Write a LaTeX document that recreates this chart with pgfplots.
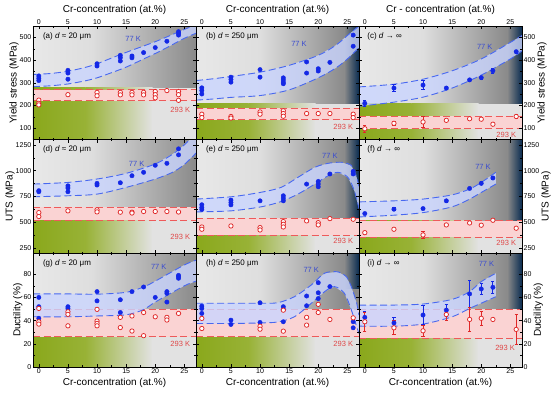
\documentclass[border=0pt]{standalone}
\usepackage{fontspec}
\setmainfont{Liberation Sans}
\usepackage{pgfplots}
\usepackage{pgfplotstable}
\pgfplotsset{compat=1.18}

\definecolor{gA}{HTML}{E8E8E8}
\definecolor{gB}{HTML}{DEDEDE}
\definecolor{gC}{HTML}{8A8A8A}
\definecolor{navy}{HTML}{0A2C50}
\definecolor{grA}{HTML}{8AA81C}
\definecolor{grB}{HTML}{98B236}
\definecolor{grC}{HTML}{E2E2E2}
\definecolor{pinkf}{HTML}{FAD3D3}
\definecolor{rdash}{HTML}{EE5A5A}
\definecolor{mred}{HTML}{E02828}
\definecolor{bfillc}{HTML}{CAD5FF}
\definecolor{bdash}{HTML}{4868F0}
\definecolor{mblue}{HTML}{1428E6}
\definecolor{tblue}{HTML}{3A4CD0}
\definecolor{tred}{HTML}{E04848}

\newcommand{\greenrect}[2]{%
 \shade[left color=grA, right color=grB] (axis cs:-1,#1) rectangle (axis cs:8.05,#2);
 \shade[left color=grB, right color=grC] (axis cs:8,#1) rectangle (axis cs:19.55,#2);
 \fill[grC] (axis cs:19.5,#1) rectangle (axis cs:27,#2);}
\newcommand{\bgL}[3]{%
 \shade[left color=gA, right color=gB] (axis cs:-1,#1) rectangle (axis cs:9.05,#2);
 \shade[left color=gB, right color=gC] (axis cs:9,#1) rectangle (axis cs:27,#2);
 \greenrect{#1}{#3}}
% #4 = lower edge of the dark band at the right
\newcommand{\bgN}[4]{%
 \shade[left color=gA, right color=gB] (axis cs:-1,#1) rectangle (axis cs:10.05,#2);
 \shade[left color=gB, right color=gC] (axis cs:10,#1) rectangle (axis cs:24.5,#2);
 \fill[gC] (axis cs:24.45,#1) rectangle (axis cs:27,#2);
 \shade[left color=gC, right color=navy] (axis cs:24.45,#4) rectangle (axis cs:27,#2);
 \greenrect{#1}{#3}}
\newcommand{\pinkband}[2]{%
 \addplot[draw=none, fill=pinkf] coordinates {(-1,#1) (27,#1) (27,#2) (-1,#2)};
 \addplot[rd] coordinates {(-1,#1) (27,#1)};
 \addplot[rd] coordinates {(-1,#2) (27,#2)};}
% #1 upper table, #2 lower table, #3 polygon table (upper, then lower reversed)
\newcommand{\blueband}[3]{%
 \addplot[draw=none, fill=bfillc, fill opacity=0.8] table {#3};
 \addplot[bd, smooth] table {#1};
 \addplot[bd, smooth] table {#2};}

\tikzset{
 pl/.style={anchor=west, font=\fontsize{8}{9}\selectfont},
 t77/.style={text=tblue, font=\fontsize{7.5}{8}\selectfont},
 t293/.style={text=tred, font=\fontsize{7.5}{8}\selectfont},
}
\pgfplotsset{
 rd/.style={rdash, line width=0.9pt, dash pattern=on 7pt off 3.5pt},
 bd/.style={bdash, line width=0.9pt, dash pattern=on 7pt off 3.5pt},
 fb/.style={only marks, mark=*, mark size=2.2pt, mblue, mark options={fill=mblue, draw=mblue}},
 orc/.style={only marks, mark=*, mark size=2.2pt, mred, mark options={fill=white, draw=mred, line width=0.75pt}},
 ebb/.style={error bars/.cd, y dir=both, y explicit, error bar style={line width=0.9pt, mblue}, error mark options={rotate=90, mark size=1.6pt, line width=0.9pt, mblue}},
 ebr/.style={error bars/.cd, y dir=both, y explicit, error bar style={line width=0.9pt, mred}, error mark options={rotate=90, mark size=1.6pt, line width=0.9pt, mred}},
 panel/.style={width=163pt, height=113.67pt, scale only axis, anchor=south west,
  xmin=-1, xmax=27, xtick={0,5,...,25}, minor x tick num=1, minor y tick num=1,
  axis on top, tick align=inside, tick pos=both,
  major tick length=3pt, minor tick length=1.6pt,
  every tick/.style={black, line width=0.45pt},
  axis line style={line width=0.6pt},
  /pgf/number format/assume math mode=true,
  /pgf/number format/1000 sep={},
  tick label style={font=\fontsize{7}{8}\selectfont},
  label style={font=\fontsize{10}{11}\selectfont},
  xticklabel style={inner sep=1.5pt}, yticklabel style={inner sep=1.5pt}},
 lefty/.style={ylabel shift=-4pt},
 righty/.style={yticklabel pos=right, ylabel shift=-3pt},
 ys/.style={ymin=50, ymax=550, ytick={100,200,...,500}},
 uts/.style={ymin=200, ymax=1300, ytick={250,500,...,1250}},
 duc/.style={ymin=0, ymax=98, ytick={0,20,...,80}},
}

\pgfplotstableread[row sep=\\]{x y\\ -1 337\\ 2 341\\ 5 351\\ 8 368\\ 10 384\\ 12 404\\ 15 434\\ 18 462\\ 20 481\\ 22 502\\ 25 535\\ 27 555\\}\aU
\pgfplotstableread[row sep=\\]{x y\\ -1 283\\ 2 287\\ 5 295\\ 8 309\\ 10 322\\ 12 340\\ 15 369\\ 18 405\\ 20 429\\ 22 455\\ 25 496\\ 27 518\\}\aL
\pgfplotstableread[row sep=\\]{x y\\ -1 337\\ 2 341\\ 5 351\\ 8 368\\ 10 384\\ 12 404\\ 15 434\\ 18 462\\ 20 481\\ 22 502\\ 25 535\\ 27 555\\ 27 518\\ 25 496\\ 22 455\\ 20 429\\ 18 405\\ 15 369\\ 12 340\\ 10 322\\ 8 309\\ 5 295\\ 2 287\\ -1 283\\}\aP
\pgfplotstableread[row sep=\\]{x y\\ -1 310\\ 2 318\\ 5 328\\ 10 347\\ 15 377\\ 20 421\\ 23 465\\ 25 508\\ 27 550\\}\bU
\pgfplotstableread[row sep=\\]{x y\\ -1 224\\ 2 229\\ 5 236\\ 10 244\\ 15 269\\ 20 322\\ 23 365\\ 25 405\\ 27 455\\}\bL
\pgfplotstableread[row sep=\\]{x y\\ -1 310\\ 2 318\\ 5 328\\ 10 347\\ 15 377\\ 20 421\\ 23 465\\ 25 508\\ 27 550\\ 27 455\\ 25 405\\ 23 365\\ 20 322\\ 15 269\\ 10 244\\ 5 236\\ 2 229\\ -1 224\\}\bP
\pgfplotstableread[row sep=\\]{x y\\ -1 282\\ 5 294\\ 10 316\\ 15 353\\ 20 405\\ 25 478\\ 27 508\\}\cU
\pgfplotstableread[row sep=\\]{x y\\ -1 197\\ 5 215\\ 10 237\\ 15 277\\ 20 334\\ 25 405\\ 27 441\\}\cL
\pgfplotstableread[row sep=\\]{x y\\ -1 282\\ 5 294\\ 10 316\\ 15 353\\ 20 405\\ 25 478\\ 27 508\\ 27 441\\ 25 405\\ 20 334\\ 15 277\\ 10 237\\ 5 215\\ -1 197\\}\cP
\pgfplotstableread[row sep=\\]{x y\\ -1 870\\ 5 886\\ 10 919\\ 15 974\\ 20 1065\\ 23 1160\\ 25 1250\\ 27 1360\\}\dU
\pgfplotstableread[row sep=\\]{x y\\ -1 747\\ 5 757\\ 10 773\\ 15 838\\ 20 919\\ 23 985\\ 25 1060\\ 27 1170\\}\dL
\pgfplotstableread[row sep=\\]{x y\\ -1 870\\ 5 886\\ 10 919\\ 15 974\\ 20 1065\\ 23 1160\\ 25 1250\\ 27 1360\\ 27 1170\\ 25 1060\\ 23 985\\ 20 919\\ 15 838\\ 10 773\\ 5 757\\ -1 747\\}\dP
\pgfplotstableread[row sep=\\]{x y\\ -1 725\\ 5 747\\ 10 789\\ 13.6 838\\ 16.5 935\\ 19.4 1032\\ 21.7 1071\\ 24 1081\\ 25.7 1049\\ 26.6 935\\ 27.1 822\\}\eU
\pgfplotstableread[row sep=\\]{x y\\ -1 601\\ 5 611\\ 10.2 650\\ 13.6 701\\ 16.5 773\\ 19.4 870\\ 21.7 951\\ 23.4 984\\ 25.1 935\\ 26.2 805\\ 27.1 611\\}\eL
\pgfplotstableread[row sep=\\]{x y\\ -1 725\\ 5 747\\ 10 789\\ 13.6 838\\ 16.5 935\\ 19.4 1032\\ 21.7 1071\\ 24 1081\\ 25.7 1049\\ 26.6 935\\ 27.1 822\\ 27.1 611\\ 26.2 805\\ 25.1 935\\ 23.4 984\\ 21.7 951\\ 19.4 870\\ 16.5 773\\ 13.6 701\\ 10.2 650\\ 5 611\\ -1 601\\}\eP
\pgfplotstableread[row sep=\\]{x y\\ -1 698\\ 5 708\\ 10 725\\ 15 766\\ 18 822\\ 20 886\\ 22.5 984\\}\fU
\pgfplotstableread[row sep=\\]{x y\\ -1 552\\ 5 569\\ 10 594\\ 15 650\\ 18 725\\ 20 789\\ 22.5 870\\}\fL
\pgfplotstableread[row sep=\\]{x y\\ -1 698\\ 5 708\\ 10 725\\ 15 766\\ 18 822\\ 20 886\\ 22.5 984\\ 22.5 870\\ 20 789\\ 18 725\\ 15 650\\ 10 594\\ 5 569\\ -1 552\\}\fP
\pgfplotstableread[row sep=\\]{x y\\ -1 63\\ 5 63\\ 10 62.8\\ 15 64.4\\ 18 69\\ 20 74\\ 25 88\\ 27 92\\}\gU
\pgfplotstableread[row sep=\\]{x y\\ -1 43.3\\ 5 43.3\\ 10 44\\ 15 45\\ 18 49.5\\ 20 56\\ 25 70\\ 27 74\\}\gL
\pgfplotstableread[row sep=\\]{x y\\ -1 63\\ 5 63\\ 10 62.8\\ 15 64.4\\ 18 69\\ 20 74\\ 25 88\\ 27 92\\ 27 74\\ 25 70\\ 20 56\\ 18 49.5\\ 15 45\\ 10 44\\ 5 43.3\\ -1 43.3\\}\gP
\pgfplotstableread[row sep=\\]{x y\\ -1 55\\ 5 55\\ 10 55\\ 13 55.4\\ 15.9 60.6\\ 18.8 70.7\\ 21.1 80.9\\ 23.4 82\\ 24.8 78\\ 25.7 69\\ 26.6 55\\ 27 44.8\\}\hU
\pgfplotstableread[row sep=\\]{x y\\ -1 37.5\\ 5 37.5\\ 10 38\\ 13 38.8\\ 15.9 43.3\\ 18.8 54.9\\ 21.1 65\\ 22.8 69.3\\ 24.5 63.5\\ 25.7 49\\ 26.6 34.6\\ 27 28.9\\}\hL
\pgfplotstableread[row sep=\\]{x y\\ -1 55\\ 5 55\\ 10 55\\ 13 55.4\\ 15.9 60.6\\ 18.8 70.7\\ 21.1 80.9\\ 23.4 82\\ 24.8 78\\ 25.7 69\\ 26.6 55\\ 27 44.8\\ 27 28.9\\ 26.6 34.6\\ 25.7 49\\ 24.5 63.5\\ 22.8 69.3\\ 21.1 65\\ 18.8 54.9\\ 15.9 43.3\\ 13 38.8\\ 10 38\\ 5 37.5\\ -1 37.5\\}\hP
\pgfplotstableread[row sep=\\]{x y\\ -1 53.4\\ 5 53.4\\ 10 54.3\\ 15 58.3\\ 18 65\\ 20 73.6\\ 22.5 80.8\\}\iU
\pgfplotstableread[row sep=\\]{x y\\ -1 35.2\\ 5 35.2\\ 10 37\\ 15 43.3\\ 18 50.5\\ 20 55\\ 22.5 60.6\\}\iL
\pgfplotstableread[row sep=\\]{x y\\ -1 53.4\\ 5 53.4\\ 10 54.3\\ 15 58.3\\ 18 65\\ 20 73.6\\ 22.5 80.8\\ 22.5 60.6\\ 20 55\\ 18 50.5\\ 15 43.3\\ 10 37\\ 5 35.2\\ -1 35.2\\}\iP

\begin{document}
\begin{tikzpicture}

% (a)
\begin{axis}[panel, ys, lefty, at={(33pt,253.33pt)}, xticklabel pos=top, xlabel={Cr-concentration (at.\%)}, ylabel={Yield stress (MPa)}]
\bgL{50}{550}{278}
\pinkband{221}{269}
\blueband{\aU}{\aL}{\aP}
\addplot[fb] coordinates {(0,310)(0,320)(0,330)(5,316)(5,343)(5,355)(10,374)(10,384)(14,396)(14,411)(14,421)(16,410)(16,418)(18,433)(20,455)(22,483)(24,510)(24,518)(24,525)};
\addplot[orc] coordinates {(0,224)(0,210)(0,203)(5,248)(10,258)(10,243)(14,258)(14,247)(16,258)(16,247)(18,258)(18,247)(20,262)(20,248)(20,234)(22,266)(24,262)(24,248)(24,223)};
\node[pl] at (rel axis cs:0.04,0.91) {(a) \textit{d} ≈ 20 μm};
\node[t77] at (axis cs:16.2,491) {77 K};
\node[t293] at (axis cs:24.3,180) {293 K};
\end{axis}

% (b)
\begin{axis}[panel, ys, at={(196pt,253.33pt)}, xticklabel pos=top, xlabel={Cr-concentration (at.\%)}, yticklabels={}]
\bgN{50}{550}{208}{208}
\pinkband{137}{189}
\blueband{\bU}{\bL}{\bP}
\addplot[fb] coordinates {(0,278)(0,266)(0,251)(5,325)(5,315)(5,303)(10,358)(10,325)(14,322)(14,313)(14,303)(14,296)(18,392)(18,343)(20,362)(20,352)(22,390)(26,510)(26,461)};
\addplot[orc] coordinates {(0,162)(0,147)(5,152)(5,145)(10,172)(10,162)(14,177)(14,165)(14,153)(18,165)(20,165)(22,165)(26,162)(26,147)};
\node[pl] at (rel axis cs:0.04,0.91) {(b) \textit{d} ≈ 250 μm};
\node[t77] at (axis cs:16.7,473) {77 K};
\node[t293] at (axis cs:24.3,106) {293 K};
\end{axis}

% (c)
\begin{axis}[panel, ys, righty, at={(359pt,253.33pt)}, xticklabel pos=top, xlabel={Cr - concentration (at.\%)}, ylabel={Yield stress (MPa)}]
\bgN{50}{550}{208}{208}
\pinkband{98}{154}
\blueband{\cU}{\cL}{\cP}
\addplot[fb, ebb] coordinates {(0,210) +- (0,12) (5,277) +- (0,15) (10,290) +- (0,20) (14,277) +- (0,6) (18,313) +- (0,8) (20,323) +- (0,6) (22,353) +- (0,12) (26,437) +- (0,6)};
\addplot[orc, ebr] coordinates {(0,98) +- (0,15) (5,122) +- (0,10) (10,128) +- (0,25) (14,135) +- (0,4) (18,142) +- (0,4) (20,140) +- (0,4) (22,118) +- (0,3) (26,152) +- (0,10)};
\node[pl] at (rel axis cs:0.03,0.91) {(c) \textit{d} → ∞};
\node[t77] at (axis cs:20.6,458) {77 K};
\node[t293] at (axis cs:24.3,73) {293 K};
\end{axis}

% (d)
\begin{axis}[panel, uts, lefty, at={(33pt,139.67pt)}, xticklabels={}, ylabel={UTS (MPa)}]
\bgL{200}{1300}{645}
\pinkband{520}{645}
\blueband{\dU}{\dL}{\dP}
\addplot[fb] coordinates {(0,796)(0,806)(5,853)(5,832)(5,796)(10,877)(10,861)(14,883)(16,951)(18,984)(20,1052)(22,1071)(24,1153)(24,1211)};
\addplot[orc] coordinates {(0,594)(0,556)(5,611)(10,621)(10,601)(14,598)(16,598)(16,590)(18,605)(20,605)(22,605)(24,600)};
\node[pl] at (rel axis cs:0.04,0.91) {(d) \textit{d} ≈ 20 μm};
\node[t77] at (axis cs:16.8,1065) {77 K};
\node[t293] at (axis cs:24.3,358) {293 K};
\end{axis}

% (e)
\begin{axis}[panel, uts, at={(196pt,139.67pt)}, xticklabels={}, yticklabels={}]
\bgN{200}{1300}{540}{540}
\pinkband{374}{540}
\blueband{\eU}{\eL}{\eP}
\addplot[fb] coordinates {(0,670)(0,643)(0,624)(5,715)(5,692)(5,669)(10,708)(14,757)(14,734)(14,708)(18,870)(20,896)(20,870)(20,844)(22,968)(26,993)(26,968)};
\addplot[orc] coordinates {(0,455)(0,433)(5,465)(10,449)(10,426)(14,507)(14,481)(14,455)(18,514)(20,497)(20,475)(22,536)(26,530)};
\node[pl] at (rel axis cs:0.04,0.91) {(e) \textit{d} ≈ 250 μm};
\node[t77] at (axis cs:22,1146) {77 K};
\node[t293] at (axis cs:24.3,319) {293 K};
\end{axis}

% (f)
\begin{axis}[panel, uts, righty, at={(359pt,139.67pt)}, xticklabels={}, ylabel={UTS (MPa)}]
\bgN{200}{1300}{514}{514}
\pinkband{358}{514}
\blueband{\fU}{\fL}{\fP}
\addplot[fb, ebb] coordinates {(0,585) +- (0,10) (5,627) +- (0,15) (10,633) +- (0,12) (14,708) +- (0,15) (18,828) +- (0,10) (20,877) +- (0,15) (22,929) +- (0,12)};
\addplot[orc, ebr] coordinates {(0,400) +- (0,15) (5,433) +- (0,8) (10,378) +- (0,30) (14,475) +- (0,10) (18,494) +- (0,8) (20,472) +- (0,8) (22,520) +- (0,6) (26,443) +- (0,10)};
\node[pl] at (rel axis cs:0.03,0.91) {(f) \textit{d} → ∞};
\node[t77] at (axis cs:20.3,1039) {77 K};
\node[t293] at (axis cs:24.3,303) {293 K};
\end{axis}

% (g)
\begin{axis}[panel, duc, lefty, at={(33pt,26pt)}, xlabel={Cr-concentration (at.\%)}, ylabel={Ductility (\%)}]
\bgL{0}{98}{50}
\pinkband{26}{50}
\blueband{\gU}{\gL}{\gP}
\addplot[fb] coordinates {(0,60)(0,52)(0,42)(5,52)(5,50.5)(10,65)(10,57)(14,58)(14,47)(16,65)(18,69)(20,60)(22,65)(22,63.5)(22,56)(24,79)(24,78)(24,76.5)};
\addplot[orc] coordinates {(0,50.5)(0,39)(0,37)(5,47.6)(5,45.4)(5,35.5)(10,49.7)(10,39.6)(10,37.6)(10,35.5)(14,42.8)(14,34)(16,44)(16,31)(18,47)(18,27)(20,43.3)(22,42.8)(22,40.5)(24,46.2)};
\node[pl] at (rel axis cs:0.04,0.91) {(g) \textit{d} ≈ 20 μm};
\node[t77] at (axis cs:20.6,86.6) {77 K};
\node[t293] at (axis cs:24.3,19.6) {293 K};
\end{axis}

% (h)
\begin{axis}[panel, duc, at={(196pt,26pt)}, xlabel={Cr-concentration (at.\%)}, yticklabels={}]
\bgN{0}{98}{50}{68}
\pinkband{26}{50}
\blueband{\hU}{\hL}{\hP}
\addplot[fb] coordinates {(0,52.5)(0,50.5)(0,46.2)(5,40.4)(5,36.7)(10,55.4)(10,38.4)(14,52)(14,49.7)(14,39)(18,61.2)(18,52.8)(20,72.7)(20,64)(20,59)(22,69.3)(26,39)(26,33.8)};
\addplot[orc] coordinates {(0,41.9)(0,33.2)(10,35.2)(10,32.6)(14,49)(14,30.9)(18,42.8)(18,36.1)(20,54)(20,47)(22,41)(26,42.4)};
\node[pl] at (rel axis cs:0.04,0.91) {(h) \textit{d} ≈ 250 μm};
\node[t77] at (axis cs:18.8,83.7) {77 K};
\node[t293] at (axis cs:24.3,19.6) {293 K};
\end{axis}

% (i)
\begin{axis}[panel, duc, righty, at={(359pt,26pt)}, xlabel={Cr-concentration (at.\%)}, ylabel={Ductility (\%)}]
\bgN{0}{98}{50}{50}
\pinkband{24.6}{50}
\blueband{\iU}{\iL}{\iP}
\addplot[fb, ebb] coordinates {(0,42.8) +- (0,5) (5,38) +- (0,5) (10,44.8) +- (0,8) (14,49) +- (0,5) (18,63) +- (0,12) (20,67.3) +- (0,5) (22,68.7) +- (0,5)};
\addplot[orc, ebr] coordinates {(0,39) +- (0,8) (5,33.8) +- (0,6) (10,31.2) +- (0,5) (14,45.3) +- (0,5) (18,41) +- (0,10) (20,42) +- (0,6) (22,41) +- (0,0) (26,32.4) +- (0,13)};
\node[pl] at (rel axis cs:0.03,0.91) {(i) \textit{d} → ∞};
\node[t77] at (axis cs:20.9,89) {77 K};
\node[t293] at (axis cs:24.1,16.8) {293 K};
\end{axis}
\pgfresetboundingbox
\useasboundingbox (0,0) rectangle (554pt,393pt);
\end{tikzpicture}
\end{document}
